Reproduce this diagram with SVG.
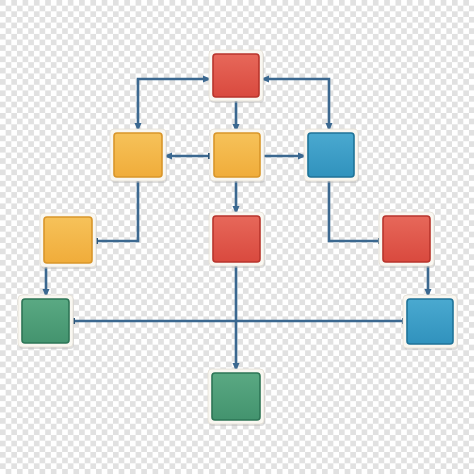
<svg xmlns="http://www.w3.org/2000/svg" width="474" height="474" viewBox="0 0 474 474">
<defs>
<pattern id="checker" x="0" y="0" width="11.3" height="11.3" patternUnits="userSpaceOnUse">
<rect width="11.3" height="11.3" fill="#ffffff"/>
<rect width="5.65" height="5.65" fill="#e1e1e1"/>
<rect x="5.65" y="5.65" width="5.65" height="5.65" fill="#e1e1e1"/>
</pattern>
<marker id="arr" viewBox="0 0 8 8" refX="7" refY="4" markerWidth="8" markerHeight="8" markerUnits="userSpaceOnUse" orient="auto-start-reverse">
<path d="M0,0.5 L8,4 L0,7.5 Z" fill="#3b6890"/>
</marker>
<marker id="cap" viewBox="0 0 4 6" refX="3" refY="3" markerWidth="4" markerHeight="6" markerUnits="userSpaceOnUse" orient="auto-start-reverse">
<rect width="4" height="6" fill="#2f5678"/>
</marker>
<linearGradient id="gRed" x1="0" y1="0" x2="0" y2="1"><stop offset="0" stop-color="#e7685a"/><stop offset="1" stop-color="#d9493e"/></linearGradient>
<linearGradient id="gYel" x1="0" y1="0" x2="0" y2="1"><stop offset="0" stop-color="#f6c25a"/><stop offset="1" stop-color="#f0ac3a"/></linearGradient>
<linearGradient id="gBlu" x1="0" y1="0" x2="0" y2="1"><stop offset="0" stop-color="#4aa9d0"/><stop offset="1" stop-color="#3092bd"/></linearGradient>
<linearGradient id="gGrn" x1="0" y1="0" x2="0" y2="1"><stop offset="0" stop-color="#5aa983"/><stop offset="1" stop-color="#43936e"/></linearGradient>
</defs>
<style>
.frame{fill:#f9f7f1;stroke:#e4e0d6;stroke-width:0.8}
.shadow{fill:#b9b9b9;opacity:0.45}
.red{fill:url(#gRed);stroke:#b8352c;stroke-width:1.6}
.yel{fill:url(#gYel);stroke:#d9962a;stroke-width:1.6}
.blu{fill:url(#gBlu);stroke:#1f7398;stroke-width:1.6}
.grn{fill:url(#gGrn);stroke:#2d7556;stroke-width:1.6}
.ln{fill:none;stroke:#3b6890;stroke-width:2.6;stroke-linejoin:miter}
</style>
<rect width="474" height="474" fill="url(#checker)"/>

<g id="connectors">
<path class="ln" d="M138,130 V79 H210" marker-start="url(#arr)" marker-end="url(#arr)"/>
<path class="ln" d="M262,79 H329 V130" marker-start="url(#arr)" marker-end="url(#arr)"/>
<path class="ln" d="M236,99 V131" marker-end="url(#arr)"/>
<path class="ln" d="M211,156 H165" marker-start="url(#cap)" marker-end="url(#arr)"/>
<path class="ln" d="M262,156 H305" marker-end="url(#arr)"/>
<path class="ln" d="M138,179 V241 H95" marker-end="url(#cap)"/>
<path class="ln" d="M236,179 V213" marker-end="url(#arr)"/>
<path class="ln" d="M329,179 V241 H381" marker-end="url(#cap)"/>
<path class="ln" d="M46,265 V296" marker-end="url(#arr)"/>
<path class="ln" d="M428,264 V296" marker-end="url(#arr)"/>
<path class="ln" d="M72,321 H405" marker-start="url(#cap)" marker-end="url(#cap)"/>
<path class="ln" d="M236,264 V370" marker-end="url(#arr)"/>
</g>

<g id="n1"><rect class="shadow" x="210" y="52" width="54" height="51" rx="4"/><rect class="frame" x="209" y="50" width="54" height="51" rx="4"/><rect class="red" x="213" y="54" width="46" height="43" rx="3"/></g>
<g id="n2"><rect class="shadow" x="111" y="131" width="56" height="52" rx="4"/><rect class="frame" x="110" y="129" width="56" height="52" rx="4"/><rect class="yel" x="114" y="133" width="48" height="44" rx="3"/></g>
<g id="n3"><rect class="shadow" x="211" y="131" width="54" height="52" rx="4"/><rect class="frame" x="210" y="129" width="54" height="52" rx="4"/><rect class="yel" x="214" y="133" width="46" height="44" rx="3"/></g>
<g id="n4"><rect class="shadow" x="305" y="131" width="54" height="52" rx="4"/><rect class="frame" x="304" y="129" width="54" height="52" rx="4"/><rect class="blu" x="308" y="133" width="46" height="44" rx="3"/></g>
<g id="n5"><rect class="shadow" x="41" y="215" width="56" height="54" rx="4"/><rect class="frame" x="40" y="213" width="56" height="54" rx="4"/><rect class="yel" x="44" y="217" width="48" height="46" rx="3"/></g>
<g id="n6"><rect class="shadow" x="210" y="214" width="55" height="54" rx="4"/><rect class="frame" x="209" y="212" width="55" height="54" rx="4"/><rect class="red" x="213" y="216" width="47" height="46" rx="3"/></g>
<g id="n7"><rect class="shadow" x="380" y="214" width="55" height="54" rx="4"/><rect class="frame" x="379" y="212" width="55" height="54" rx="4"/><rect class="red" x="383" y="216" width="47" height="46" rx="3"/></g>
<g id="n8"><rect class="shadow" x="19" y="297" width="55" height="52" rx="4"/><rect class="frame" x="18" y="295" width="55" height="52" rx="4"/><rect class="grn" x="22" y="299" width="47" height="44" rx="3"/></g>
<g id="n9"><rect class="shadow" x="404" y="297" width="54" height="53" rx="4"/><rect class="frame" x="403" y="295" width="54" height="53" rx="4"/><rect class="blu" x="407" y="299" width="46" height="45" rx="3"/></g>
<g id="n10"><rect class="shadow" x="209" y="371" width="56" height="55" rx="4"/><rect class="frame" x="208" y="369" width="56" height="55" rx="4"/><rect class="grn" x="212" y="373" width="48" height="47" rx="3"/></g>
</svg>
